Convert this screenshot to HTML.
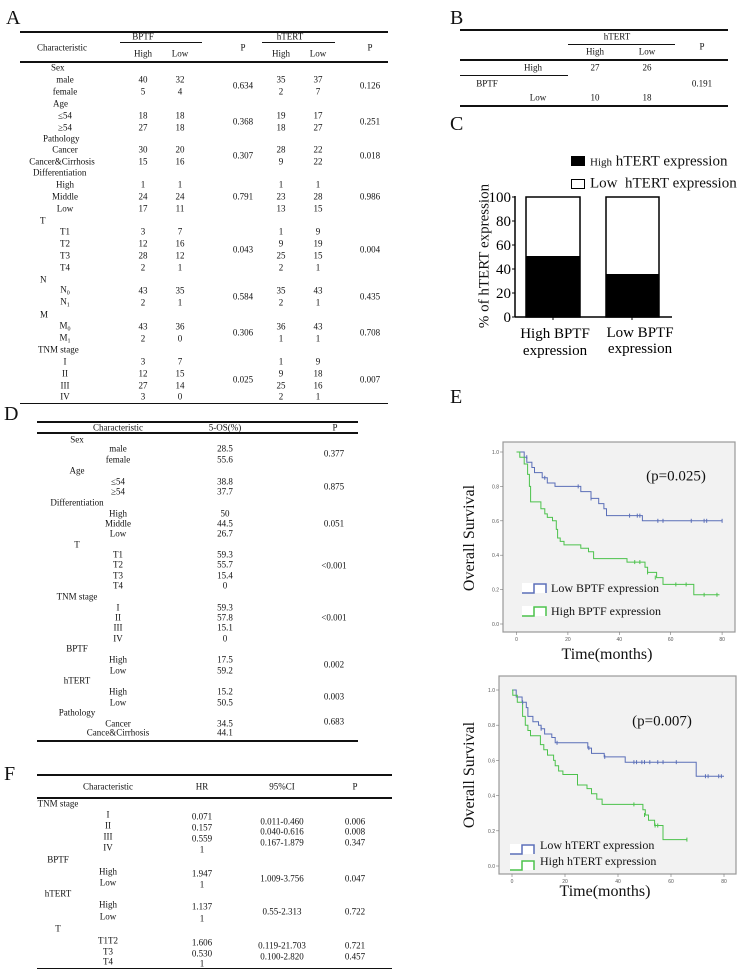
<!DOCTYPE html>
<html><head><meta charset="utf-8">
<style>
html,body{margin:0;padding:0;background:#fff;}
#root{position:relative;width:740px;height:970px;overflow:hidden;font-family:"Liberation Serif",serif;color:#111;}
.t{position:absolute;z-index:2;white-space:nowrap;transform:translate(-50%,-50%);font-size:9px;line-height:1;}
.l{position:absolute;z-index:2;white-space:nowrap;transform:translate(0,-50%);font-size:9px;line-height:1;}
.r{position:absolute;background:#111;}
sub{font-size:6px;vertical-align:-2px;}
svg{position:absolute;left:0;top:0;z-index:1;}
</style></head>
<body><div id="root"></div>
<script>
var R=document.getElementById('root');
function t(x,y,s,cls,st){var d=document.createElement('div');d.className=cls||'t';d.style.left=x+'px';d.style.top=y+'px';if(st)d.style.cssText+=st;d.innerHTML=s;R.appendChild(d);}
function rule(x1,x2,y,h){var d=document.createElement('div');d.className='r';d.style.left=x1+'px';d.style.top=y+'px';d.style.width=(x2-x1)+'px';d.style.height=(h||1)+'px';R.appendChild(d);}

/* ---------- A ---------- */
t(6,18,'A','l','font-size:20px');
rule(20,388,31,2);rule(120,202,42,1);rule(262,335,42,1);rule(20,388,61,2);
t(62,48,'Characteristic');t(143,37,'BPTF');t(290,37,'hTERT');
t(143,54,'High');t(180,54,'Low');t(281,54,'High');t(318,54,'Low');t(243,48,'P');t(370,48,'P');
var A=[['Sex',68,'c',51],['male',80,[40,32,35,37]],['female',92,[5,4,2,7]],['Age',104,'c',53],['≤54',116,[18,18,19,17]],['≥54',128,[27,18,18,27]],
['Pathology',139,'c',43],['Cancer',150,[30,20,28,22]],['Cancer&amp;Cirrhosis',162,[15,16,9,22]],['Differentiation',173,'c',33],
['High',185,[1,1,1,1]],['Middle',197,[24,24,23,28]],['Low',209,[17,11,13,15]],['T',221,'c',40],['T1',232,[3,7,1,9]],['T2',244,[12,16,9,19]],
['T3',256,[28,12,25,15]],['T4',268,[2,1,2,1]],['N',280,'c',40],['N<sub>0</sub>',291,[43,35,35,43]],['N<sub>1</sub>',303,[2,1,2,1]],
['M',315,'c',40],['M<sub>0</sub>',327,[43,36,36,43]],['M<sub>1</sub>',339,[2,0,1,1]],['TNM stage',350,'c',38],
['I',362,[3,7,1,9]],['II',374,[12,15,9,18]],['III',386,[27,14,25,16]],['IV',397,[3,0,2,1]]];
A.forEach(function(r){if(r[2]=='c'){t(r[3],r[1],r[0],'l');}
 else{t(r[0].indexOf('Cirr')>0?62:65,r[1],r[0]);var xs=[143,180,281,318];r[2].forEach(function(v,i){t(xs[i],r[1],v);});}});
[[86,'0.634','0.126'],[122,'0.368','0.251'],[156,'0.307','0.018'],[197,'0.791','0.986'],[250,'0.043','0.004'],[297,'0.584','0.435'],[333,'0.306','0.708'],[380,'0.025','0.007']]
.forEach(function(p){t(243,p[0],p[1]);t(370,p[0],p[2]);});
rule(20,388,403,1);

/* ---------- B ---------- */
t(450,18,'B','l','font-size:20px');
rule(460,728,29,2);t(617,37,'hTERT');rule(568,675,44,1);t(595,52,'High');t(647,52,'Low');t(702,47,'P');
rule(460,728,59,2);t(533,68,'High');t(595,68,'27');t(647,68,'26');rule(460,568,75,1);
t(487,84,'BPTF');t(702,84,'0.191');t(538,98,'Low');t(595,98,'10');t(647,98,'18');rule(460,728,105,2);

/* ---------- C ---------- */
t(450,124,'C','l','font-size:20px');
t(571,161,'','l','width:14px;height:10px;background:#000;');
t(571,184,'','l','width:12px;height:8px;border:1px solid #000;background:#fff;');
t(590,162,'<span style="font-size:11px">High</span> hTERT expression','l','font-size:15px');
t(590,184,'Low&nbsp; hTERT expression','l','font-size:15px');
t(485,256,'% of hTERT expression','t','font-size:15px;transform:translate(-50%,-50%) rotate(-90deg);');

/* ---------- D ---------- */
t(4,414,'D','l','font-size:20px');
rule(37,358,421,2);rule(37,358,432,2);
t(118,428,'Characteristic');t(225,428,'5-OS(%)');t(335,428,'P');
var D=[['Sex',440,'c'],['male',449,'28.5'],['female',460,'55.6'],['Age',471,'c'],['≤54',482,'38.8'],['≥54',492,'37.7'],['Differentiation',503,'c'],
['High',514,'50'],['Middle',524,'44.5'],['Low',534,'26.7'],['T',545,'c'],['T1',555,'59.3'],['T2',565,'55.7'],['T3',576,'15.4'],['T4',586,'0'],
['TNM stage',597,'c'],['I',608,'59.3'],['II',618,'57.8'],['III',628,'15.1'],['IV',639,'0'],['BPTF',649,'c'],['High',660,'17.5'],['Low',671,'59.2'],
['hTERT',681,'c'],['High',692,'15.2'],['Low',703,'50.5'],['Pathology',713,'c'],['Cancer',724,'34.5'],['Cance&amp;Cirrhosis',733,'44.1']];
D.forEach(function(r){if(r[2]=='c')t(77,r[1],r[0]);else{t(118,r[1],r[0]);t(225,r[1],r[2]);}});
[[454,'0.377'],[487,'0.875'],[524,'0.051'],[566,'&lt;0.001'],[618,'&lt;0.001'],[665,'0.002'],[697,'0.003'],[722,'0.683']].forEach(function(p){t(334,p[0],p[1]);});
rule(37,358,740,2);

/* ---------- F ---------- */
t(4,774,'F','l','font-size:20px');
rule(37,392,774,2);rule(37,392,797,2);
t(108,787,'Characteristic');t(202,787,'HR');t(282,787,'95%CI');t(355,787,'P');
var F=[['TNM stage',804,'c'],['I',815,'0.071'],['II',826,'0.157'],['III',837,'0.559'],['IV',848,'1'],['BPTF',860,'c'],['High',872,'1.947'],['Low',883,'1'],
['hTERT',894,'c'],['High',905,'1.137'],['Low',917,'1'],['T',929,'c'],['T1T2',941,'1.606'],['T3',952,'0.530'],['T4',962,'1']];
F.forEach(function(r){if(r[2]=='c')t(58,r[1],r[0],'t');else{t(108,r[1],r[0]);t(202,r[1]+2,r[2]);}});
[[822,'0.011-0.460','0.006'],[832,'0.040-0.616','0.008'],[843,'0.167-1.879','0.347'],[879,'1.009-3.756','0.047'],[912,'0.55-2.313','0.722'],[946,'0.119-21.703','0.721'],[957,'0.100-2.820','0.457']]
.forEach(function(p){t(282,p[0],p[1]);t(355,p[0],p[2]);});
rule(37,392,968,1);

/* ---------- E ---------- */
t(450,397,'E','l','font-size:20px');
t(470,538,'Overall Survival','t','font-size:16px;transform:translate(-50%,-50%) rotate(-90deg);');
t(470,775,'Overall Survival','t','font-size:16px;transform:translate(-50%,-50%) rotate(-90deg);');
t(607,655,'Time(months)','t','font-size:16px');
t(605,892,'Time(months)','t','font-size:16px');
t(676,477,'(p=0.025)','t','font-size:15px');
t(662,722,'(p=0.007)','t','font-size:15px');
t(551,588,'Low BPTF expression','l','font-size:12px');
t(551,611,'High BPTF expression','l','font-size:12px');
t(540,845,'Low hTERT expression','l','font-size:12px');
t(540,861,'High hTERT expression','l','font-size:12px');

var S='<svg width="740" height="970" xmlns="http://www.w3.org/2000/svg">';
S+='<rect x="526" y="197" width="54" height="120" fill="#fff" stroke="#000" stroke-width="1.5"/>';
S+='<rect x="526" y="256" width="54" height="61" fill="#000"/>';
S+='<rect x="606" y="197" width="53" height="120" fill="#fff" stroke="#000" stroke-width="1.5"/>';
S+='<rect x="606" y="274" width="53" height="43" fill="#000"/>';
S+='<line x1="515" y1="196" x2="515" y2="317" stroke="#000" stroke-width="1.5"/><line x1="515" y1="317" x2="672" y2="317" stroke="#000" stroke-width="1.5"/>';
S+='<line x1="553" y1="317" x2="553" y2="320" stroke="#000"/><line x1="632" y1="317" x2="632" y2="320" stroke="#000"/>';
for(var i=0;i<=5;i++){var y=317-i*24;S+='<line x1="512" y1="'+y+'" x2="515" y2="'+y+'" stroke="#000"/><text x="511" y="'+(y+5)+'" font-family="Liberation Serif" font-size="15" text-anchor="end">'+(i*20)+'</text>';}
S+='<text x="555" y="338" font-family="Liberation Serif" font-size="15" text-anchor="middle">High BPTF</text><text x="555" y="355" font-family="Liberation Serif" font-size="15" text-anchor="middle">expression</text>';
S+='<text x="640" y="337" font-family="Liberation Serif" font-size="15" text-anchor="middle">Low BPTF</text><text x="640" y="353" font-family="Liberation Serif" font-size="15" text-anchor="middle">expression</text>';

function km(x0,xs,y0,ys,p,end,col){var d='M'+x0+' '+(y0-ys);
 for(var i=0;i<p.length;i++){var x=x0+p[i][0]*xs;d+=' H'+x.toFixed(1)+' V'+(y0-p[i][1]*ys).toFixed(1);}
 d+=' H'+(x0+end*xs).toFixed(1);
 return '<path d="'+d+'" fill="none" stroke="'+col+'" stroke-width="1"/>';}
function censor(x0,xs,y0,ys,arr,col){var s='';arr.forEach(function(a){var x=x0+a[0]*xs,y=y0-a[1]*ys;s+='<line x1="'+x+'" y1="'+(y-2)+'" x2="'+x+'" y2="'+(y+2)+'" stroke="'+col+'"/>';});return s;}
function panel(bx,by,bw,bh,x0,xs,y0,ys){var s='<rect x="'+bx+'" y="'+by+'" width="'+bw+'" height="'+bh+'" fill="#f2f2f2" stroke="#999" stroke-width="1.2"/>';
 for(var i=0;i<=5;i++){var y=y0-i*0.2*ys;s+='<line x1="'+(bx-3)+'" y1="'+y+'" x2="'+bx+'" y2="'+y+'" stroke="#777" stroke-width="0.6"/><text x="'+(bx-4)+'" y="'+(y+2)+'" font-family="Liberation Sans" font-size="5" fill="#555" text-anchor="end">'+(i*0.2).toFixed(1)+'</text>';}
 for(var j=0;j<=4;j++){var x=x0+j*20*xs;s+='<line x1="'+x+'" y1="'+(by+bh)+'" x2="'+x+'" y2="'+(by+bh+3)+'" stroke="#777" stroke-width="0.6"/><text x="'+x+'" y="'+(by+bh+9)+'" font-family="Liberation Sans" font-size="5" fill="#555" text-anchor="middle">'+(j*20)+'</text>';}
 return s;}
var B='#5b6fb8',G='#4cc24c';
var x0=516.5,xs=2.57,y0=624,ys=172;
S+=panel(503,442,232,190,x0,xs,y0,ys);
S+=km(x0,xs,y0,ys,[[3,.97],[4,.94],[6,.91],[7,.88],[10,.85],[12,.82],[15,.80],[25,.77],[29,.73],[32,.70],[34,.67],[35,.63],[49,.60]],80,B);
S+=km(x0,xs,y0,ys,[[1.3,.97],[3,.93],[4.3,.87],[5,.80],[5.5,.71],[9.5,.67],[11,.64],[12,.62],[14,.60],[15.5,.55],[16,.50],[17,.48],[18.5,.46],[25,.44],[28,.42],[30,.38],[43,.36],[50,.33],[51,.30],[54.5,.27],[57,.23],[69,.17]],79,G);
S+=censor(x0,xs,y0,ys,[[4,.97],[11,.85],[24,.80],[29,.73],[44,.63],[47,.63],[48,.63],[55,.60],[57,.60],[68,.60],[73,.60],[74,.60],[80,.60]],B);
S+=censor(x0,xs,y0,ys,[[46,.36],[48,.36],[51,.30],[54,.27],[62,.23],[66,.23],[73,.17],[78,.17]],G);
x0=512,xs=2.65,y0=866,ys=176;
S+=panel(499,676,237,198,x0,xs,y0,ys);
S+=km(x0,xs,y0,ys,[[1.6,.96],[3.8,.93],[5.4,.90],[6,.85],[7.9,.82],[10,.80],[11,.78],[12.3,.75],[15,.73],[16.3,.70],[28.6,.67],[30,.64],[34.8,.62],[42.7,.59],[69.5,.51]],80,B);
S+=km(x0,xs,y0,ys,[[0.3,.97],[2,.93],[4,.85],[5,.80],[6,.77],[7,.74],[10.7,.69],[12,.66],[13.4,.63],[15.7,.60],[16.3,.57],[17.6,.54],[19.2,.52],[24.7,.46],[28.3,.44],[30,.41],[32,.38],[34,.35],[49.4,.32],[50.3,.29],[51.5,.26],[53.8,.23],[57,.15]],66,G);
S+=censor(x0,xs,y0,ys,[[4,.93],[11,.78],[17,.70],[29,.67],[35,.62],[46,.59],[47,.59],[49,.59],[50,.59],[52,.59],[55,.59],[57,.59],[62,.59],[73,.51],[74,.51],[78,.51],[79,.51]],B);
S+=censor(x0,xs,y0,ys,[[46,.35],[50,.29],[54,.23],[55,.23],[66,.15]],G);
function icon(x,y,col){return '<rect x="'+x+'" y="'+(y-6)+'" width="24" height="10" fill="#fff"/><path d="M'+x+' '+(y+4)+' H'+(x+12)+' V'+(y-5)+' H'+(x+24)+' V'+(y+4)+'" fill="none" stroke="'+col+'" stroke-width="1.5"/>';}
S+=icon(522,589,B);S+=icon(522,612,G);S+=icon(510,850,B);S+=icon(510,866,G);
S+='</svg>';
R.insertAdjacentHTML('beforeend',S);
</script>
</body></html>
